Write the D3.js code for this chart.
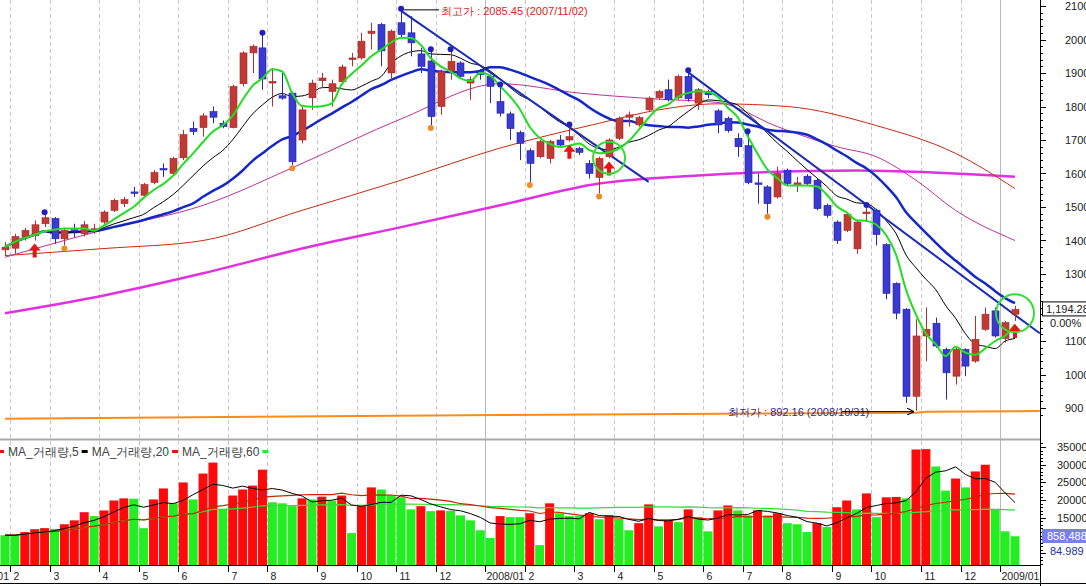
<!DOCTYPE html>
<html>
<head>
<meta charset="utf-8">
<script src="https://cdn.jsdelivr.net/npm/d3@7"></script>
<style>
  body { margin: 0; background: #fff; }
  svg { display: block; font-family: "Liberation Sans", Arial, sans-serif; }
</style>
</head>
<body>
<svg id="chart" width="1086" height="586"></svg>
<script>
// weekly KOSPI candles, 2007/01/26 .. 2009/01/02
var opens = [1372,1377,1410,1415,1450,1466,1405,1432,1420,1430,1455,1490,1510,1545,1535,1573,1615,1600,1647,1735,
  1737,1785,1750,1737,1868,1960,1975,1870,1832,1840,1700,1826,1877,1845,1874,1940,1945,2018,2045,1900,
  2050,2020,1957,1936,1800,1905,1930,1870,1905,1890,1815,1778,1722,1668,1650,1645,1700,1700,1675,1630,
  1588,1650,1705,1768,1745,1790,1826,1850,1826,1890,1810,1845,1787,1765,1705,1683,1572,1560,1530,1610,
  1565,1592,1580,1505,1455,1430,1375,1480,1490,1388,1272,1195,935,1115,1153,1075,995,1075,1040,1135,
  1190,1108,1180];
var closes = [1380,1412,1430,1447,1468,1405,1430,1428,1447,1435,1485,1520,1522,1542,1567,1603,1612,1645,1716,1725,
  1772,1768,1740,1860,1960,1980,1882,1875,1825,1635,1790,1870,1885,1868,1918,1945,1995,2025,1966,2025,
  2015,1990,1920,1770,1905,1935,1890,1880,1895,1860,1780,1734,1690,1630,1695,1695,1685,1710,1663,1600,
  1645,1700,1765,1775,1767,1825,1845,1820,1890,1823,1850,1835,1745,1728,1680,1573,1568,1510,1600,1570,
  1572,1570,1495,1475,1400,1478,1455,1485,1418,1242,1183,935,1115,1135,1085,1005,1075,1025,1105,1180,
  1115,1155,1194.28];
var highs = [1395,1420,1438,1460,1478,1470,1438,1450,1458,1450,1490,1525,1530,1560,1572,1610,1630,1650,1730,1755,
  1780,1800,1758,1865,1965,1985,2014,1915,1900,1845,1800,1880,1900,1880,1925,1960,2020,2050,2050,2030,
  2085.45,2070,1975,1965,1910,1965,1935,1890,1912,1895,1860,1785,1728,1675,1700,1700,1715,1740,1680,1640,
  1650,1705,1770,1785,1772,1830,1850,1880,1895,1902,1855,1850,1792,1770,1720,1720,1600,1565,1620,1615,
  1590,1598,1585,1510,1460,1482,1460,1500,1495,1392,1275,1198,1165,1200,1170,1080,1085,1078,1175,1200,
  1200,1160,1205];
var lows = [1355,1360,1400,1400,1440,1390,1385,1410,1412,1420,1450,1485,1500,1530,1530,1568,1590,1595,1640,1715,
  1710,1750,1735,1735,1860,1900,1850,1800,1820,1625,1690,1790,1855,1800,1870,1920,1940,1970,1920,1880,
  2005,1950,1900,1745,1775,1880,1885,1820,1880,1810,1770,1700,1640,1575,1645,1630,1680,1695,1655,1585,
  1540,1645,1700,1740,1740,1785,1820,1815,1820,1815,1790,1825,1720,1722,1650,1568,1510,1480,1525,1565,
  1545,1565,1490,1468,1390,1425,1360,1455,1385,1225,1165,915,892.16,1040,1080,925,970,995,1035,1130,
  1110,1095,1160];
var volumes = [101000,101000,110000,118000,121000,119000,132000,143000,166000,155000,171000,199000,205000,204000,121000,202000,233000,191000,250000,202000,
  275000,306000,174000,213000,230000,241000,286000,194000,191000,183000,205000,202000,210000,199000,213000,107000,183000,236000,230000,213000,
  208000,174000,183000,169000,171000,170000,157000,143000,115000,93000,155000,152000,152000,163000,73000,191000,163000,155000,155000,163000,
  146000,157000,148000,115000,135000,188000,126000,143000,138000,174000,152000,112000,171000,185000,171000,157000,171000,157000,163000,135000,
  132000,110000,135000,124000,180000,199000,174000,219000,152000,208000,209000,205000,343000,344000,295000,227000,261000,236000,281000,300000,
  174000,112000,98000];

// slow moving averages at a few weeks
var ma60Idx = [0,10,20,30,40,50,58,66,72,78,84,88,92,96,102];
var ma60Val = [1350,1432,1505,1630,1763,1868,1840,1822,1812,1740,1680,1650,1580,1490,1400];
var ma120Idx = [0,10,20,30,40,50,60,66,72,79,88,96,102];
var ma120Val = [1355,1376,1400,1490,1580,1676,1750,1790,1808,1800,1743,1660,1555];
var ma240Idx = [0,10,20,30,40,50,60,70,76,86,102];
var ma240Val = [1183,1236,1302,1376,1440,1505,1570,1594,1603,1609,1590];
var floorIdx = [0,50,92,93,104.5];
var floorVal = [868,879,886,889,891];

var trendLines = [[[40, 2085.45], [65, 1575]], [[69, 1902], [104.5, 1123]]];
var highDots = [4, 26, 40, 43, 45, 50, 57, 69, 75, 87];
var lowDots = [6, 29, 43, 53, 60, 77];
var arrows = [3, 57, 61, 102];
var circles = [[61, 1647, 16], [102, 1183, 19]];

var monthTicks = [0.5,4.5,9.5,13.5,17.5,22.5,26.5,31.5,35.5,39.5,43.5,48.5,52.5,57.5,61.5,65.5,70.5,74.5,78.5,83.5,87.5,92.5,96.5,100.5];
var monthLabels = ["2","3","4","5","6","7","8","9","10","11","12","2008/01","2","3","4","5","6","7","8","9","10","11","12","2009/01"];
var yearTicks = [48.5, 100.5];
var priceTicks = [900,1000,1100,1200,1300,1400,1500,1600,1700,1800,1900,2000,2100];
var volTicks = [150000,200000,250000,300000,350000];

var svg = d3.select("#chart");
var plotRight = 1040;

var x = d3.scaleLinear().domain([0, 102]).range([5, 1015]);
var y = d3.scaleLinear().domain([900, 2100]).range([408, 6]);
var yv = d3.scaleLinear().domain([0, 350000]).range([571, 447]);

function movingAvg(arr, n) {
  return arr.map(function(d, i) {
    var s = arr.slice(Math.max(0, i - n + 1), i + 1);
    return d3.mean(s);
  });
}

svg.append("clipPath").attr("id", "pc").append("rect").attr("x", 0).attr("y", 0).attr("width", plotRight).attr("height", 438);
svg.append("clipPath").attr("id", "vc").append("rect").attr("x", 0).attr("y", 441).attr("width", plotRight).attr("height", 124);

// grid
var grid = svg.append("g");
grid.selectAll("line.m").data(monthTicks).enter().append("line")
  .attr("x1", function(d) { return Math.round(x(d)) + 0.5; })
  .attr("x2", function(d) { return Math.round(x(d)) + 0.5; })
  .attr("y1", 0).attr("y2", 565)
  .attr("stroke", function(d) { return yearTicks.indexOf(d) >= 0 ? "#b8b8b8" : "#c8c8c8"; })
  .attr("stroke-dasharray", function(d) { return yearTicks.indexOf(d) >= 0 ? null : "4,3"; });

// price panel
var pp = svg.append("g").attr("clip-path", "url(#pc)");
var curve = d3.line().x(function(d) { return x(d[0]); }).y(function(d) { return y(d[1]); }).curve(d3.curveMonotoneX);

function zipIdx(idx, vals) { return idx.map(function(d, i) { return [d, vals[i]]; }); }
function series(vals) { return vals.map(function(d, i) { return [i, d]; }); }

pp.append("path").attr("d", d3.line().x(function(d) { return x(d[0]); }).y(function(d) { return y(d[1]); })(zipIdx(floorIdx, floorVal)))
  .attr("fill", "none").attr("stroke", "#ff8c1a").attr("stroke-width", 2);
pp.append("path").attr("d", curve(zipIdx(ma240Idx, ma240Val))).attr("fill", "none").attr("stroke", "#e030e0").attr("stroke-width", 2.5);
pp.append("path").attr("d", curve(zipIdx(ma120Idx, ma120Val))).attr("fill", "none").attr("stroke", "#cc2a10").attr("stroke-width", 1);
pp.append("path").attr("d", curve(zipIdx(ma60Idx, ma60Val))).attr("fill", "none").attr("stroke", "#c0309a").attr("stroke-width", 1);
pp.append("path").attr("d", curve(series(movingAvg(closes, 20)))).attr("fill", "none").attr("stroke", "#1428c8").attr("stroke-width", 2.5);
pp.append("path").attr("d", curve(series(movingAvg(closes, 10)))).attr("fill", "none").attr("stroke", "#000").attr("stroke-width", 1);

// trend lines
pp.selectAll("line.t").data(trendLines).enter().append("line")
  .attr("x1", function(d) { return x(d[0][0]); }).attr("y1", function(d) { return y(d[0][1]); })
  .attr("x2", function(d) { return x(d[1][0]); }).attr("y2", function(d) { return y(d[1][1]); })
  .attr("stroke", "#1a2ab8").attr("stroke-width", 2);

// candles
var cw = 7;
var candles = pp.selectAll("g.c").data(closes).enter().append("g");
candles.append("line")
  .attr("x1", function(d, i) { return Math.round(x(i)) + 0.5; })
  .attr("x2", function(d, i) { return Math.round(x(i)) + 0.5; })
  .attr("y1", function(d, i) { return y(highs[i]); })
  .attr("y2", function(d, i) { return y(lows[i]); })
  .attr("stroke", function(d, i) { return d >= opens[i] ? "#b03030" : "#2a2ab0"; });
candles.append("rect")
  .attr("x", function(d, i) { return Math.round(x(i)) - cw / 2 + 0.5; })
  .attr("width", cw)
  .attr("y", function(d, i) { return y(Math.max(d, opens[i])); })
  .attr("height", function(d, i) { return Math.max(1.5, Math.abs(y(d) - y(opens[i]))); })
  .attr("fill", function(d, i) { return d >= opens[i] ? "#c03a36" : "#3a3ad0"; })
  .attr("stroke", function(d, i) { return d >= opens[i] ? "#a02828" : "#2424a0"; })
  .attr("stroke-width", 0.6);

pp.append("path").attr("d", curve(series(movingAvg(closes, 5)))).attr("fill", "none").attr("stroke", "#22dd22").attr("stroke-width", 2);

pp.selectAll("circle.h").data(highDots).enter().append("circle")
  .attr("cx", function(d) { return x(d); }).attr("cy", function(d) { return y(highs[d]) - 2; })
  .attr("r", 3).attr("fill", "#2020c0");
pp.selectAll("circle.l").data(lowDots).enter().append("circle")
  .attr("cx", function(d) { return x(d); }).attr("cy", function(d) { return y(lows[d]) + 3; })
  .attr("r", 3).attr("fill", "#f08c28");

pp.selectAll("path.a").data(arrows).enter().append("path")
  .attr("transform", function(d) { return "translate(" + x(d) + "," + (y(lows[d]) + 3) + ")"; })
  .attr("d", "M0,0 L-6,7 L-2,7 L-2,14 L2,14 L2,7 L6,7 Z")
  .attr("fill", "#ee1111");

pp.selectAll("circle.g").data(circles).enter().append("circle")
  .attr("cx", function(d) { return x(d[0]); }).attr("cy", function(d) { return y(d[1]); })
  .attr("r", function(d) { return d[2]; })
  .attr("fill", "none").attr("stroke", "#33dd33").attr("stroke-width", 2);

// high / low annotations
var hiI = highs.indexOf(d3.max(highs)), loI = lows.indexOf(d3.min(lows));
pp.append("line").attr("x1", x(hiI) + 3).attr("x2", x(hiI) + 38).attr("y1", y(highs[hiI]) - 1).attr("y2", y(highs[hiI]) - 1)
  .attr("stroke", "#000");
pp.append("text").attr("x", x(hiI) + 40).attr("y", y(highs[hiI]) + 4).attr("font-size", 11).attr("fill", "#dd2222")
  .text("최고가 : " + d3.format(".2f")(highs[hiI]) + " (2007/11/02)");
pp.append("text").attr("x", 728).attr("y", y(lows[loI]) + 5).attr("font-size", 11).attr("fill", "#2a2a90")
  .text("최저가 : " + d3.format(".2f")(lows[loI]) + " (2008/10/31)");
svg.append("defs").append("marker").attr("id", "ah").attr("viewBox", "0 0 10 10").attr("refX", 10).attr("refY", 5)
  .attr("markerWidth", 7).attr("markerHeight", 7).attr("orient", "auto")
  .append("path").attr("d", "M0,0 L10,5 L0,10").attr("fill", "none").attr("stroke", "#000").attr("stroke-width", 1.5);
pp.append("line").attr("x1", 842).attr("x2", x(loI) - 2).attr("y1", y(lows[loI]) + 1).attr("y2", y(lows[loI]) + 1)
  .attr("stroke", "#000").attr("marker-end", "url(#ah)");

// divider
svg.append("line").attr("x1", 0).attr("x2", plotRight).attr("y1", 439.5).attr("y2", 439.5).attr("stroke", "#a8a8a8").attr("stroke-width", 2);

// volume panel
var vp = svg.append("g").attr("clip-path", "url(#vc)");
vp.selectAll("rect").data(volumes).enter().append("rect")
  .attr("x", function(d, i) { return x(i) - 4.5; })
  .attr("width", 9)
  .attr("y", function(d) { return yv(d); })
  .attr("height", function(d) { return 571 - yv(d); })
  .attr("fill", function(d, i) { return i > 0 && d > volumes[i - 1] ? "#ff0a0a" : "#22ee22"; });
var vline = d3.line().x(function(d) { return x(d[0]); }).y(function(d) { return yv(d[1]); });
vp.append("path").attr("d", vline(series(movingAvg(volumes, 60)))).attr("fill", "none").attr("stroke", "#33dd33").attr("stroke-width", 1.2);
vp.append("path").attr("d", vline(series(movingAvg(volumes, 20)))).attr("fill", "none").attr("stroke", "#cc2200").attr("stroke-width", 1.2);
vp.append("path").attr("d", vline(series(movingAvg(volumes, 5)))).attr("fill", "none").attr("stroke", "#000").attr("stroke-width", 1);

// legend
var legend = [["", "#ee1111"], ["MA_거래량,5", "#000"], ["MA_거래량,20", "#ee1111"], ["MA_거래량,60", "#22ee22"]];
var lg = svg.append("g").attr("font-size", 12).attr("fill", "#444");
var lx = -2;
legend.forEach(function(d, i) {
  if (d[0]) {
    var t = lg.append("text").attr("x", lx).attr("y", 456).text(d[0]);
    lx += t.node().getComputedTextLength() + 3;
  }
  lg.append("rect").attr("x", lx).attr("y", 450).attr("width", 6).attr("height", 3).attr("fill", d[1]);
  lx += 10;
});

// bottom axis
svg.append("line").attr("x1", 0).attr("x2", plotRight).attr("y1", 565.5).attr("y2", 565.5).attr("stroke", "#000");
svg.append("line").attr("x1", 0).attr("x2", 1086).attr("y1", 583.5).attr("y2", 583.5).attr("stroke", "#000");
var bx = svg.append("g").attr("font-size", 10.5).attr("fill", "#222");
monthTicks.forEach(function(d, i) {
  var px = Math.round(x(d)) + 0.5;
  svg.append("line").attr("x1", px).attr("x2", px).attr("y1", 565).attr("y2", 572).attr("stroke", "#000");
  bx.append("text").attr("x", px + (monthLabels[i].length > 2 ? 1 : 3)).attr("y", 580)
    .attr("text-anchor", "start").text(monthLabels[i]);
});
bx.append("text").attr("x", 9).attr("y", 580).attr("text-anchor", "end").text("2007/01");

// right axis
svg.append("rect").attr("x", plotRight + 1).attr("y", 0).attr("width", 46).attr("height", 583).attr("fill", "#fff");
svg.append("line").attr("x1", plotRight + 0.5).attr("x2", plotRight + 0.5).attr("y1", 0).attr("y2", 586).attr("stroke", "#000");
d3.range(880, 2121, 20).forEach(function(p) {
  var major = p % 100 === 0;
  svg.append("line").attr("x1", plotRight).attr("x2", plotRight + (major ? 6 : 3))
    .attr("y1", Math.round(y(p)) + 0.5).attr("y2", Math.round(y(p)) + 0.5).attr("stroke", "#000");
});
d3.range(0, 360001, 10000).forEach(function(v) {
  var yy = yv(v);
  if (yy < 442 || yy > 565) return;
  svg.append("line").attr("x1", plotRight).attr("x2", plotRight + (v % 50000 === 0 ? 6 : 3))
    .attr("y1", Math.round(yy) + 0.5).attr("y2", Math.round(yy) + 0.5).attr("stroke", "#000");
});
var ax = svg.append("g").attr("font-size", 11).attr("fill", "#222");
priceTicks.forEach(function(p) {
  if (p === 1200) return;
  ax.append("text").attr("x", 1065).attr("y", y(p) + 4).text(p);
});
volTicks.forEach(function(v) {
  ax.append("text").attr("x", 1057).attr("y", yv(v) + 4).text(v);
});

// current value boxes
var last = closes[closes.length - 1];
svg.append("rect").attr("x", 1042.5).attr("y", y(last) - 7.5).attr("width", 50).attr("height", 14)
  .attr("fill", "#fff").attr("stroke", "#000");
svg.append("text").attr("x", 1046).attr("y", y(last) + 4).attr("font-size", 11).attr("fill", "#222").text(d3.format(",.2f")(last));
svg.append("text").attr("x", 1050).attr("y", y(last) + 18).attr("font-size", 11).attr("fill", "#222").text("0.00%");
var lastV = 858488;
svg.append("rect").attr("x", 1042).attr("y", 529).attr("width", 44).attr("height", 14).attr("fill", "#7a80e8");
svg.append("text").attr("x", 1047).attr("y", 540).attr("font-size", 11).attr("fill", "#fff").text(d3.format(",")(lastV));
svg.append("text").attr("x", 1050).attr("y", 555).attr("font-size", 11).attr("fill", "#2233aa").text("84.989");
</script>
</body>
</html>
